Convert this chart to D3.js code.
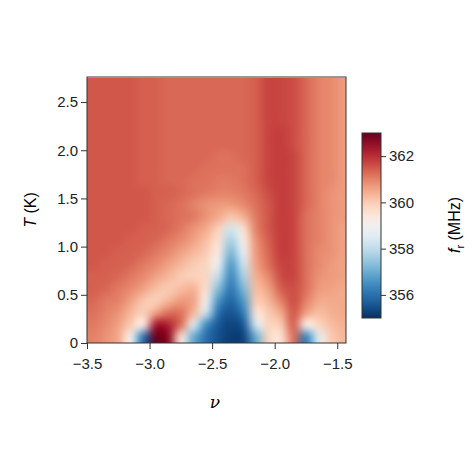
<!DOCTYPE html>
<html><head><meta charset="utf-8">
<script src="https://cdn.jsdelivr.net/npm/d3@7"></script>
<style>body{margin:0;background:#fff}svg{font-family:"Liberation Sans",Arial,sans-serif}</style>
</head><body>
<svg id="c" width="474" height="470"></svg>
<script>
const nuCenters = [-3.45,-3.35,-3.25,-3.15,-3.05,-2.95,-2.85,-2.75,-2.65,-2.55,-2.45,-2.35,-2.25,-2.15,-2.05,-1.95,-1.85,-1.75,-1.65,-1.55,-1.45];
const tCenters = [0.0625,0.1875,0.3125,0.4375,0.5625,0.6875,0.8125,0.9375,1.0625,1.1875,1.3125,1.4375,1.5625,1.6875,1.8125,1.9375,2.0625,2.1875,2.3125,2.4375,2.5625,2.6875];
const fValues = [
[361.0,360.8,360.5,359.0,356.0,363.0,362.6,359.5,357.0,356.0,355.5,355.2,355.3,357.0,359.8,359.5,361.2,356.3,358.5,360.0,360.3],
[361.1,360.9,360.6,360.0,359.3,362.3,362.2,361.2,358.5,356.5,355.6,355.3,355.6,358.3,359.8,360.0,361.4,359.2,359.8,360.2,360.4],
[361.2,361.0,360.8,360.3,359.9,360.6,361.2,361.2,360.3,358.2,356.0,355.5,356.2,359.5,360.0,360.5,361.5,360.6,360.2,360.4,360.5],
[361.3,361.1,361.0,360.6,360.1,359.9,360.3,360.7,360.6,359.0,356.6,355.8,356.7,360.0,360.3,361.0,361.6,361.0,360.5,360.5,360.5],
[361.4,361.3,361.1,360.9,360.6,360.2,360.0,360.2,360.4,359.6,357.3,356.1,357.2,360.2,360.6,361.4,361.6,361.2,360.7,360.6,360.5],
[361.4,361.4,361.3,361.1,360.9,360.6,360.3,360.0,359.9,359.8,358.0,356.4,357.7,360.4,360.9,361.6,361.7,361.2,360.8,360.7,360.6],
[361.5,361.4,361.4,361.3,361.1,360.9,360.6,360.3,360.0,359.8,358.7,356.7,358.2,360.6,361.2,361.7,361.7,361.2,360.9,360.7,360.6],
[361.5,361.5,361.4,361.4,361.3,361.1,360.9,360.6,360.3,360.0,359.3,357.2,358.7,360.7,361.3,361.8,361.7,361.2,360.9,360.8,360.6],
[361.5,361.5,361.5,361.4,361.4,361.3,361.1,360.9,360.6,360.2,359.6,357.7,359.2,360.8,361.4,361.8,361.7,361.2,361.0,360.8,360.6],
[361.5,361.5,361.5,361.5,361.4,361.4,361.3,361.1,360.8,360.5,359.9,358.3,359.6,361.0,361.5,361.8,361.7,361.2,361.0,360.8,360.6],
[361.5,361.5,361.5,361.5,361.5,361.4,361.3,361.2,361.1,360.8,360.5,360.1,360.4,361.1,361.5,361.8,361.7,361.2,361.0,360.8,360.7],
[361.5,361.5,361.5,361.5,361.5,361.4,361.3,361.2,361.0,360.8,360.7,360.7,360.9,361.2,361.5,361.8,361.7,361.3,361.0,360.8,360.7],
[361.5,361.5,361.5,361.5,361.5,361.4,361.4,361.3,361.2,361.1,361.0,361.0,361.1,361.3,361.6,361.8,361.7,361.3,361.0,360.8,360.7],
[361.5,361.5,361.5,361.5,361.4,361.4,361.3,361.3,361.2,361.2,361.1,361.1,361.2,361.4,361.7,361.8,361.7,361.3,361.0,360.9,360.7],
[361.5,361.5,361.5,361.5,361.4,361.4,361.3,361.3,361.3,361.2,361.2,361.2,361.2,361.4,361.7,361.8,361.7,361.3,361.0,360.9,360.7],
[361.5,361.5,361.5,361.5,361.4,361.4,361.3,361.3,361.3,361.3,361.2,361.2,361.3,361.4,361.7,361.8,361.7,361.3,361.0,360.9,360.7],
[361.5,361.5,361.5,361.5,361.4,361.4,361.3,361.3,361.3,361.3,361.3,361.3,361.3,361.4,361.7,361.8,361.6,361.3,361.0,360.9,360.7],
[361.5,361.5,361.5,361.5,361.4,361.4,361.3,361.3,361.3,361.3,361.3,361.3,361.3,361.4,361.7,361.8,361.6,361.3,361.0,360.9,360.7],
[361.5,361.5,361.5,361.5,361.4,361.4,361.3,361.3,361.3,361.3,361.3,361.3,361.3,361.4,361.7,361.7,361.6,361.3,361.0,360.9,360.7],
[361.5,361.5,361.5,361.5,361.4,361.4,361.3,361.3,361.3,361.3,361.3,361.3,361.3,361.4,361.7,361.7,361.6,361.3,361.0,360.9,360.7],
[361.5,361.5,361.5,361.5,361.4,361.4,361.3,361.3,361.3,361.3,361.3,361.3,361.3,361.4,361.7,361.7,361.6,361.3,361.0,360.9,360.7],
[361.5,361.5,361.5,361.5,361.4,361.4,361.3,361.3,361.3,361.3,361.3,361.3,361.3,361.4,361.7,361.7,361.6,361.3,361.0,360.9,360.7]
];
const xTicks = [-3.5,-3.0,-2.5,-2.0,-1.5];
const yTicks = [0,0.5,1.0,1.5,2.0,2.5];
const cTicks = [356,358,360,362];

const svg = d3.select("#c");
const L=87,R=346,T=77,B=343;
const x = d3.scaleLinear().domain([-3.5,-1.43]).range([L,R]);
const y = d3.scaleLinear().domain([0,2.76]).range([B,T]);
const color = d3.scaleSequential(v=>d3.interpolateRdBu(1-v)).domain([355,363]);

const nc = nuCenters.length, nr = tCenters.length;
const cv = document.createElement("canvas"); cv.width=nc; cv.height=nr;
const ctx = cv.getContext("2d");
const img = ctx.createImageData(nc,nr);
for(let r=0;r<nr;r++) for(let c=0;c<nc;c++){
  const col = d3.rgb(color(fValues[r][c]));
  const i = ((nr-1-r)*nc+c)*4;
  img.data[i]=col.r; img.data[i+1]=col.g; img.data[i+2]=col.b; img.data[i+3]=255;
}
ctx.putImageData(img,0,0);
const big = document.createElement("canvas");
const x0 = x(nuCenters[0]-0.05), x1 = x(nuCenters[nc-1]+0.05);
const y0 = y(tCenters[nr-1]+0.0625), y1 = y(tCenters[0]-0.0625);
big.width = Math.round((x1-x0)*2); big.height = Math.round((y1-y0)*2);
const bctx = big.getContext("2d"); bctx.imageSmoothingEnabled=true; bctx.imageSmoothingQuality="high";
bctx.drawImage(cv,0,0,big.width,big.height);
svg.append("clipPath").attr("id","pc").append("rect").attr("x",L).attr("y",T).attr("width",R-L).attr("height",B-T);
svg.append("image").attr("clip-path","url(#pc)").attr("href",big.toDataURL())
  .attr("x",x0).attr("y",y0).attr("width",x1-x0).attr("height",y1-y0).attr("preserveAspectRatio","none");
svg.append("rect").attr("x",L).attr("y",T).attr("width",R-L).attr("height",B-T).attr("fill","none").attr("stroke","#333").attr("stroke-width",1);

const fmt = d=>d3.format(".1f")(d).replace("-","\u2212");
const xa = svg.append("g").attr("transform",`translate(0,${B})`).call(d3.axisBottom(x).tickValues(xTicks).tickFormat(fmt).tickSize(6).tickSizeOuter(0));
const ya = svg.append("g").attr("transform",`translate(${L},0)`).call(d3.axisLeft(y).tickValues(yTicks).tickFormat(d=>d===0?"0":d3.format(".1f")(d)).tickSize(6).tickSizeOuter(0));
[xa,ya].forEach(a=>{a.select(".domain").remove();a.selectAll("line").attr("stroke","#333");a.selectAll("text").attr("font-size",15).attr("fill","#222").style("font-family","'Liberation Sans',Arial,sans-serif");});
xa.selectAll("text").attr("dy","1.1em");
svg.append("text").attr("x",215).attr("y",408).attr("text-anchor","middle").attr("font-size",17).attr("font-style","italic").attr("font-family","'DejaVu Serif',serif").text("\u03bd");
const yl = svg.append("text").attr("transform","translate(36,210) rotate(-90)").attr("text-anchor","middle").attr("font-size",16);
yl.append("tspan").attr("font-style","italic").text("T");yl.append("tspan").text(" (K)");

const cx0=362,cx1=381,cy0=133,cy1=318;
const cs = d3.scaleLinear().domain([355,363]).range([cy1,cy0]);
const grad = svg.append("defs").append("linearGradient").attr("id","cg").attr("x1",0).attr("y1",1).attr("x2",0).attr("y2",0);
d3.range(0,1.0001,0.05).forEach(t=>grad.append("stop").attr("offset",t).attr("stop-color",color(355+8*t)));
svg.append("rect").attr("x",cx0).attr("y",cy0).attr("width",cx1-cx0).attr("height",cy1-cy0).attr("fill","url(#cg)").attr("stroke","#333");
const ca = svg.append("g").attr("transform",`translate(${cx1},0)`).call(d3.axisRight(cs).tickValues(cTicks).tickSize(5).tickSizeOuter(0));
ca.select(".domain").remove();ca.selectAll("line").attr("stroke","#333");
ca.selectAll("text").attr("font-size",15).attr("fill","#222").style("font-family","'Liberation Sans',Arial,sans-serif");
const cl = svg.append("text").attr("transform","translate(460,225) rotate(-90)").attr("text-anchor","middle").attr("font-size",16);
cl.append("tspan").attr("font-style","italic").text("f");
cl.append("tspan").attr("font-size",11).attr("dy",4).text("r");
cl.append("tspan").attr("dy",-4).text(" (MHz)");
</script>
</body></html>
